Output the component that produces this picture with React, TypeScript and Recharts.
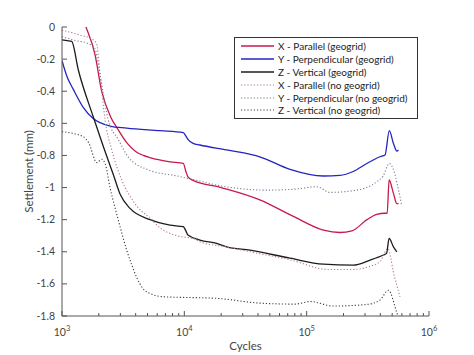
import React from "react";
import {
  LineChart,
  Line,
  XAxis,
  YAxis,
  Legend
} from "recharts";

// settlement curves as [cycles, settlement mm]
const xGeogrid = [
  [1300, 0.15], [1570, 0], [1860, -0.17], [2110, -0.4], [2500, -0.56], [2880, -0.64],
  [3380, -0.72], [4000, -0.775], [4630, -0.8], [6000, -0.825], [7640, -0.84],
  [9800, -0.85], [10300, -0.9], [10700, -0.933], [11800, -0.955], [20000, -1.0],
  [41900, -1.078], [77800, -1.18], [137000, -1.265], [187000, -1.28], [234000, -1.27],
  [311000, -1.2], [374000, -1.167], [437000, -1.16], [455000, -1.16], [472000, -0.953],
  [512000, -1.036], [546000, -1.1], [563000, -1.1]
];

const yGeogrid = [
  [1000, -0.21], [1100, -0.31], [1240, -0.39], [1490, -0.5], [1800, -0.57],
  [2470, -0.617], [3380, -0.63], [6320, -0.646], [9800, -0.658], [10300, -0.68],
  [10700, -0.7], [11800, -0.725], [13400, -0.735], [22200, -0.766], [41900, -0.81],
  [73100, -0.887], [137000, -0.928], [187000, -0.924], [240000, -0.9], [311000, -0.85],
  [398000, -0.808], [437000, -0.797], [474000, -0.646], [512000, -0.725],
  [546000, -0.773], [563000, -0.766]
];

const zGeogrid = [
  [1000, -0.08], [1100, -0.085], [1200, -0.09], [1360, -0.268], [1800, -0.559],
  [2180, -0.746], [2630, -0.92], [2980, -1.04], [3600, -1.13], [5250, -1.2],
  [7640, -1.234], [9800, -1.244], [10300, -1.27], [10700, -1.296], [13400, -1.327],
  [18400, -1.348], [22200, -1.369], [34400, -1.39], [73100, -1.44], [137000, -1.477],
  [240000, -1.483], [330000, -1.452], [424000, -1.42], [450000, -1.41], [472000, -1.317],
  [512000, -1.369], [546000, -1.4]
];

const xNoGeogrid = [
  [1000, -0.02], [1400, -0.05], [1750, -0.075], [1920, -0.106], [2050, -0.3],
  [2250, -0.58], [2550, -0.766], [3080, -0.953], [3950, -1.1], [5400, -1.2],
  [6300, -1.25], [8700, -1.3], [12200, -1.32], [13400, -1.338], [22200, -1.37],
  [34400, -1.4], [73100, -1.45], [150000, -1.51], [240000, -1.51], [330000, -1.49],
  [400000, -1.46], [460000, -1.38], [520000, -1.55], [580000, -1.68]
];

const yNoGeogrid = [
  [1000, -0.06], [1300, -0.085], [1600, -0.1], [1850, -0.13], [2000, -0.25],
  [2180, -0.42], [2390, -0.58], [2880, -0.7], [3480, -0.81], [5080, -0.89],
  [9000, -0.93], [12200, -0.953], [20000, -0.99], [47200, -1.016], [80000, -1.01],
  [121000, -0.995], [155000, -1.03], [257000, -1.016], [374000, -0.964],
  [420000, -0.93], [474000, -0.85], [598000, -1.113]
];

const zNoGeogrid = [
  [1000, -0.652], [1490, -0.683], [1650, -0.72], [1930, -0.845], [2110, -0.824],
  [2250, -0.85], [2470, -1.0], [2880, -1.2], [3380, -1.39], [3710, -1.48],
  [4080, -1.56], [4600, -1.63], [5250, -1.66], [6730, -1.68], [18400, -1.69],
  [41900, -1.72], [80000, -1.726], [107000, -1.71], [165000, -1.738], [311000, -1.728],
  [398000, -1.7], [466000, -1.64], [546000, -1.78], [600000, -1.87]
];

const majorX = [1000, 10000, 100000, 1000000];
const xTicks = [
  1000, 2000, 3000, 4000, 5000, 6000, 7000, 8000, 9000,
  10000, 20000, 30000, 40000, 50000, 60000, 70000, 80000, 90000,
  100000, 200000, 300000, 400000, 500000, 600000, 700000, 800000, 900000,
  1000000
];
const yTicks = [0, -0.2, -0.4, -0.6, -0.8, -1, -1.2, -1.4, -1.6, -1.8];

const AXIS = "#555";
const TEXT = "#444";
const FONT = "Lato, 'Open Sans', sans-serif";

const series = [
  { name: "X - Parallel (geogrid)", data: xGeogrid, color: "#c8184c", dash: undefined, width: 1.3 },
  { name: "Y - Perpendicular (geogrid)", data: yGeogrid, color: "#2424c4", dash: undefined, width: 1.3 },
  { name: "Z - Vertical (geogrid)", data: zGeogrid, color: "#1c1c1c", dash: undefined, width: 1.3 },
  { name: "X - Parallel (no geogrid)", data: xNoGeogrid, color: "#b07896", dash: "1.2 2", width: 1.1 },
  { name: "Y - Perpendicular (no geogrid)", data: yNoGeogrid, color: "#7c7a9a", dash: "1.2 2", width: 1.1 },
  { name: "Z - Vertical (no geogrid)", data: zNoGeogrid, color: "#3c3c3c", dash: "1.2 2", width: 1.1 }
];

const toRows = (pts: number[][]) => pts.map(([x, y]) => ({ x, y }));

const BottomTick = (props: any) => {
  const { x, y, payload } = props;
  const major = majorX.includes(payload.value);
  return (
    <g>
      <line x1={x} y1={y} x2={x} y2={y - (major ? 5 : 3)} stroke={AXIS} />
      {major && (
        <text x={x} y={y + 20} textAnchor="middle" fontSize={10.5} fill={TEXT} fontFamily={FONT}>
          <tspan>10</tspan>
          <tspan dy={-5} fontSize={7.5}>{Math.round(Math.log10(payload.value))}</tspan>
        </text>
      )}
    </g>
  );
};

const TopTick = (props: any) => {
  const { x, y, payload } = props;
  const major = majorX.includes(payload.value);
  return <line x1={x} y1={y} x2={x} y2={y + (major ? 5 : 3)} stroke={AXIS} />;
};

const LeftTick = (props: any) => {
  const { x, y, payload } = props;
  return (
    <g>
      <line x1={x} y1={y} x2={x + 5} y2={y} stroke={AXIS} />
      <text x={x - 7} y={y} dy={3.5} textAnchor="end" fontSize={10.5} fill={TEXT} fontFamily={FONT}>
        {String(payload.value)}
      </text>
    </g>
  );
};

const RightTick = (props: any) => {
  const { x, y } = props;
  return <line x1={x} y1={y} x2={x - 5} y2={y} stroke={AXIS} />;
};

function LegendBox() {
  return (
    <div
      style={{
        border: "1px solid #333",
        background: "#fff",
        padding: "2px 6px 1px 6px",
        width: 184,
        boxSizing: "border-box",
        fontFamily: FONT,
        fontSize: 10,
        color: "#222"
      }}
    >
      {series.map((s) => (
        <div key={s.name} style={{ display: "flex", alignItems: "center", height: 12.8 }}>
          <svg width={33} height={4} style={{ marginRight: 4 }}>
            <line x1={0} y1={2} x2={33} y2={2} stroke={s.color} strokeWidth={s.width} strokeDasharray={s.dash} />
          </svg>
          <span style={{ whiteSpace: "nowrap" }}>{s.name}</span>
        </div>
      ))}
    </div>
  );
}

export default function App() {
  return (
    <div style={{ width: 474, height: 355, background: "#fff", fontFamily: FONT }}>
      <style>{"body{margin:0}"}</style>
      <LineChart width={474} height={355} margin={{ top: 27, right: 45, bottom: 0, left: 0 }}>
        <XAxis
          dataKey="x"
          type="number"
          scale="log"
          domain={[1000, 1000000]}
          ticks={xTicks}
          interval={0}
          allowDataOverflow
          height={39}
          tickSize={0}
          tickMargin={0}
          tick={<BottomTick />}
          axisLine={{ stroke: AXIS }}
          label={{ value: "Cycles", position: "insideBottom", offset: 5, style: { fontSize: 11.5, fill: TEXT, fontFamily: FONT } }}
        />
        <XAxis
          xAxisId="top"
          orientation="top"
          type="number"
          scale="log"
          domain={[1000, 1000000]}
          ticks={xTicks}
          interval={0}
          allowDataOverflow
          height={0}
          tickSize={0}
          tickMargin={0}
          tick={<TopTick />}
          axisLine={{ stroke: AXIS }}
        />
        <YAxis
          type="number"
          domain={[-1.8, 0]}
          ticks={yTicks}
          interval={0}
          allowDataOverflow
          width={62}
          tickSize={0}
          tickMargin={0}
          tick={<LeftTick />}
          axisLine={{ stroke: AXIS }}
          label={{ value: "Settlement (mm)", angle: -90, position: "insideLeft", offset: 29, style: { textAnchor: "middle", fontSize: 11.5, fill: TEXT, fontFamily: FONT } }}
        />
        <YAxis
          yAxisId="right"
          orientation="right"
          type="number"
          domain={[-1.8, 0]}
          ticks={yTicks}
          interval={0}
          allowDataOverflow
          width={0}
          tickSize={0}
          tickMargin={0}
          tick={<RightTick />}
          axisLine={{ stroke: AXIS }}
        />
        {series.map((s) => (
          <Line
            key={s.name}
            name={s.name}
            data={toRows(s.data)}
            dataKey="y"
            type="monotoneX"
            stroke={s.color}
            strokeWidth={s.width}
            strokeDasharray={s.dash}
            dot={false}
            activeDot={false}
            isAnimationActive={false}
          />
        ))}
        <Legend
          layout="vertical"
          align="center"
          verticalAlign="middle"
          wrapperStyle={{ top: 37, left: 234 }}
          content={() => <LegendBox />}
        />
      </LineChart>
    </div>
  );
}
